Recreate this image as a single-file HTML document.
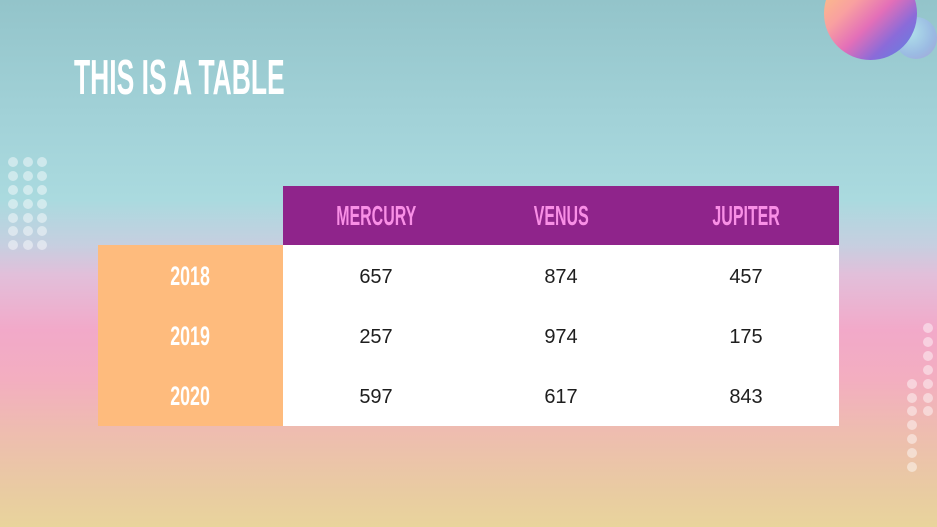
<!DOCTYPE html>
<html><head><meta charset="utf-8"><style>
html,body{margin:0;padding:0}
body{width:937px;height:527px;position:relative;overflow:hidden;
background:linear-gradient(to bottom,#93c4ca 0px,#a2d2d8 120px,#aadadf 200px,#c6cfe0 245px,#e2bfda 275px,#f2a9c9 330px,#f3aec0 380px,#eebcb0 430px,#e9cba2 490px,#e9d49c 527px);
font-family:"Liberation Sans",sans-serif}
.t{position:absolute;white-space:nowrap;font-weight:bold;transform-origin:0 0}
.dot{position:absolute;width:10px;height:10px;border-radius:50%;background:rgba(255,255,255,0.45)}
.cell{position:absolute;display:flex;align-items:center;justify-content:center}
.hd{color:#f98fe6;font-weight:bold;font-size:28px;transform:scaleX(0.57)}
.yr{color:#fff;font-weight:bold;font-size:27px;transform:scaleX(0.66)}
.nm{color:#1e1e1e;font-size:20px}
</style></head><body>
<div class="t" style="left:74px;top:50px;font-size:49px;color:#fff;transform:scaleX(0.54)">THIS IS A TABLE</div>

<!-- spheres -->
<div style="position:absolute;left:895px;top:17px;width:42px;height:42px;border-radius:50%;background:radial-gradient(circle at 35% 35%,#b5e6ef,#9bb8e6 60%,#a79ad8);opacity:0.85"></div>
<div style="position:absolute;left:824px;top:-33px;width:93px;height:93px;border-radius:50%;background:linear-gradient(135deg,#fbd07a 0%,#f9a0a0 35%,#e36fb8 55%,#8a6bd9 75%,#5a86e3 100%)"></div>

<!-- left dots -->
<div class="dot" style="left:8px;top:157px"></div><div class="dot" style="left:23px;top:157px"></div><div class="dot" style="left:37px;top:157px"></div>
<div class="dot" style="left:8px;top:171px"></div><div class="dot" style="left:23px;top:171px"></div><div class="dot" style="left:37px;top:171px"></div>
<div class="dot" style="left:8px;top:185px"></div><div class="dot" style="left:23px;top:185px"></div><div class="dot" style="left:37px;top:185px"></div>
<div class="dot" style="left:8px;top:199px"></div><div class="dot" style="left:23px;top:199px"></div><div class="dot" style="left:37px;top:199px"></div>
<div class="dot" style="left:8px;top:213px"></div><div class="dot" style="left:23px;top:213px"></div><div class="dot" style="left:37px;top:213px"></div>
<div class="dot" style="left:8px;top:226px"></div><div class="dot" style="left:23px;top:226px"></div><div class="dot" style="left:37px;top:226px"></div>
<div class="dot" style="left:8px;top:240px"></div><div class="dot" style="left:23px;top:240px"></div><div class="dot" style="left:37px;top:240px"></div>

<!-- right dots -->
<div class="dot" style="left:923px;top:323px"></div>
<div class="dot" style="left:923px;top:337px"></div>
<div class="dot" style="left:923px;top:351px"></div>
<div class="dot" style="left:923px;top:365px"></div>
<div class="dot" style="left:923px;top:379px"></div>
<div class="dot" style="left:923px;top:393px"></div>
<div class="dot" style="left:923px;top:406px"></div>
<div class="dot" style="left:907px;top:379px"></div>
<div class="dot" style="left:907px;top:393px"></div>
<div class="dot" style="left:907px;top:406px"></div>
<div class="dot" style="left:907px;top:420px"></div>
<div class="dot" style="left:907px;top:434px"></div>
<div class="dot" style="left:907px;top:448px"></div>
<div class="dot" style="left:907px;top:462px"></div>

<!-- table -->
<div style="position:absolute;left:283px;top:186px;width:556px;height:59px;background:#8f248b"></div>
<div style="position:absolute;left:98px;top:245px;width:185px;height:181px;background:#febb7d"></div>
<div style="position:absolute;left:283px;top:245px;width:556px;height:181px;background:#fff"></div>

<div class="cell" style="left:283px;top:186px;width:186px;height:59px"><span class="hd">MERCURY</span></div>
<div class="cell" style="left:468px;top:186px;width:186px;height:59px"><span class="hd">VENUS</span></div>
<div class="cell" style="left:653px;top:186px;width:186px;height:59px"><span class="hd">JUPITER</span></div>

<div class="cell" style="left:98px;top:246px;width:185px;height:60px"><span class="yr">2018</span></div>
<div class="cell" style="left:98px;top:306px;width:185px;height:60px"><span class="yr">2019</span></div>
<div class="cell" style="left:98px;top:366px;width:185px;height:60px"><span class="yr">2020</span></div>

<div class="cell" style="left:283px;top:247px;width:186px;height:60px"><span class="nm">657</span></div>
<div class="cell" style="left:468px;top:247px;width:186px;height:60px"><span class="nm">874</span></div>
<div class="cell" style="left:653px;top:247px;width:186px;height:60px"><span class="nm">457</span></div>
<div class="cell" style="left:283px;top:307px;width:186px;height:60px"><span class="nm">257</span></div>
<div class="cell" style="left:468px;top:307px;width:186px;height:60px"><span class="nm">974</span></div>
<div class="cell" style="left:653px;top:307px;width:186px;height:60px"><span class="nm">175</span></div>
<div class="cell" style="left:283px;top:367px;width:186px;height:60px"><span class="nm">597</span></div>
<div class="cell" style="left:468px;top:367px;width:186px;height:60px"><span class="nm">617</span></div>
<div class="cell" style="left:653px;top:367px;width:186px;height:60px"><span class="nm">843</span></div>
</body></html>
